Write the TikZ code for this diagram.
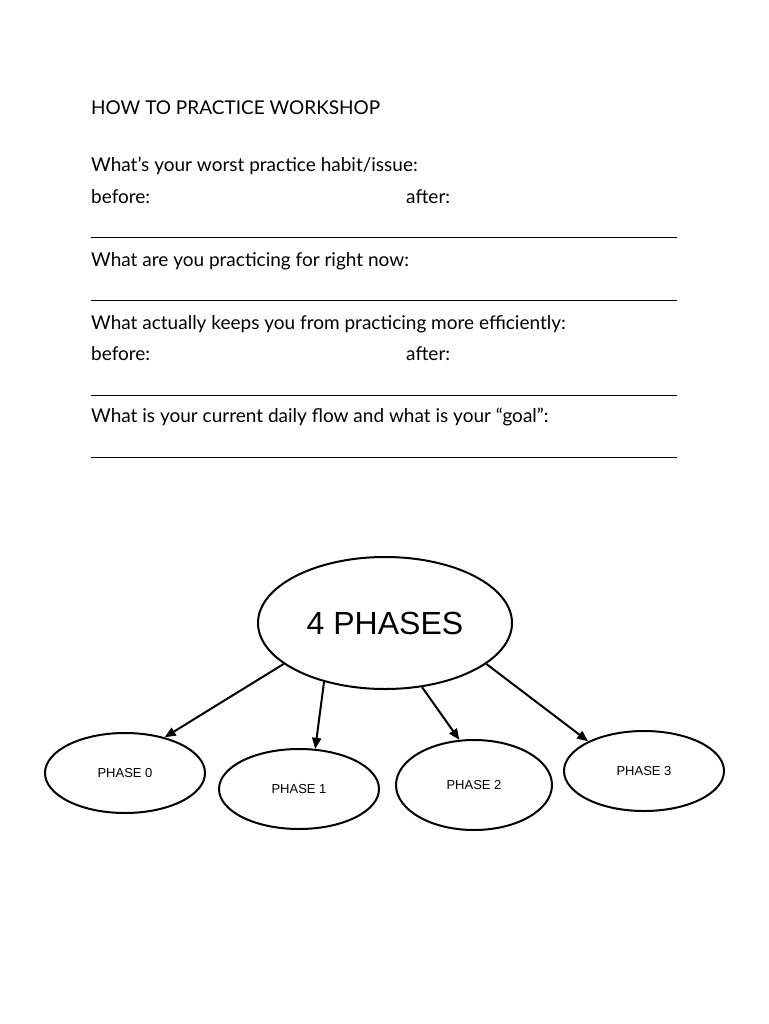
\documentclass[tikz,border=0pt]{standalone}
\usepackage{fontspec}
\setmainfont{Lato}
\setsansfont{Liberation Sans}
\usetikzlibrary{shapes.geometric,arrows.meta}
\tikzset{
  line/.style={anchor=base west,font=\fontsize{19}{19}\selectfont,inner sep=0pt},
  blank/.style={line width=1pt},
  phase/.style={ellipse,draw,line width=2pt,inner sep=0pt,minimum width=160pt,minimum height=80pt,font=\sffamily\fontsize{13}{13}\selectfont},
  link/.style={line width=2pt,-{Triangle[length=11pt,width=9pt]}}
}
\begin{document}
\begin{tikzpicture}[x=1pt,y=-1pt]
\useasboundingbox (0,0) rectangle (768,1024);
\node[line] (title) at (91,115) {HOW TO PRACTICE WORKSHOP};
\node[line] (q1) at (91,172) {What’s your worst practice habit/issue:};
\node[line] (b1) at (91,204) {before:};
\node[line] (a1) at (406,204) {after:};
\draw[blank] (91,237) -- (677,237);
\node[line] (q2) at (91,266) {What are you practicing for right now:};
\draw[blank] (91,300) -- (677,300);
\node[line] (q3) at (91,329) {What actually keeps you from practicing more efficiently:};
\node[line] (b2) at (91,360) {before:};
\node[line] (a2) at (406,360) {after:};
\draw[blank] (91,395) -- (677,395);
\node[line] (q4) at (91,422) {What is your current daily flow and what is your “goal”:};
\draw[blank] (91,457) -- (677,457);

\node[phase,minimum width=254pt,minimum height=132pt,font=\sffamily\fontsize{32}{32}\selectfont] (main) at (385,623) {4 PHASES};
\node[phase] (p0) at (125,773) {PHASE 0};
\node[phase] (p1) at (299,789) {PHASE 1};
\node[phase,minimum width=156pt,minimum height=90pt] (p2) at (474,785) {PHASE 2};
\node[phase] (p3) at (644,771) {PHASE 3};

\draw[link] (main.-158) -- (p0.42);
\draw[link] (main.224) -- (p1.68);
\draw[link] (main.300) -- (p2.108);
\draw[link] (main.-22) -- (p3.152);
\end{tikzpicture}
\end{document}
